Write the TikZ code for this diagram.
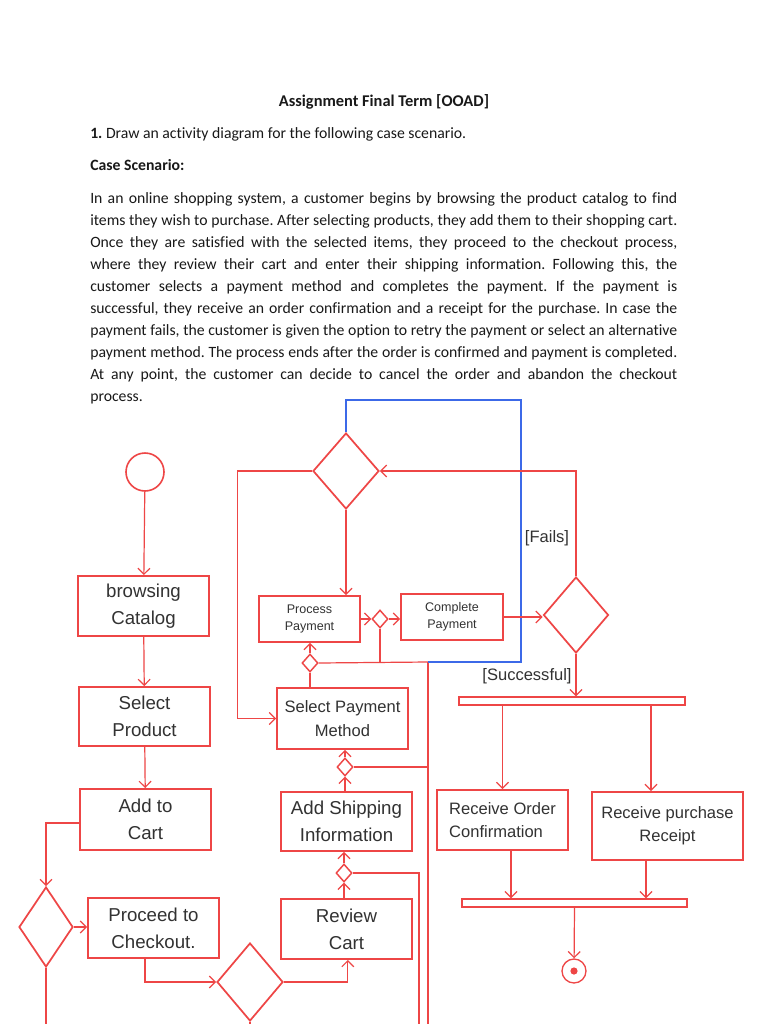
\documentclass[tikz,border=0pt]{standalone}
\usepackage{fontspec}
\setmainfont{Carlito}[Ligatures=NoCommon]
\newfontfamily\dgfont{Liberation Sans}
\usetikzlibrary{shapes.geometric,arrows.meta,calc}
\definecolor{rd}{RGB}{238,70,70}
\definecolor{bl}{RGB}{60,105,232}
\definecolor{tx}{RGB}{25,25,25}
\definecolor{dtx}{RGB}{50,50,50}
\newcommand\dgbig{\dgfont\fontsize{14pt}{20pt}\selectfont}
\newcommand\dgmid{\dgfont\fontsize{12.4pt}{17.5pt}\selectfont}
\newcommand\dgsml{\dgfont\fontsize{9.4pt}{12.8pt}\selectfont}
\newcommand\bodyfs{\fontsize{11.8pt}{16.5pt}\selectfont}
\frenchspacing
\begin{document}
\begin{tikzpicture}[x=0.75pt,y=-0.75pt,
  box/.style={draw=rd,line width=1.4pt,rectangle,inner sep=0pt,align=center,text=dtx},
  dia/.style={draw=rd,line width=1.3pt,diamond,inner sep=0pt},
  sdia/.style={dia,line width=1.1pt,wh={16}{18}},
  bar/.style={draw=rd,line width=1.1pt,rectangle,inner sep=0pt},
  ln/.style={draw=rd,line width=0.9pt},
  arr/.style={ln,-{Straight Barb[length=4.5pt,width=9pt]}},
  wh/.style 2 args={minimum width=#1*0.75pt,minimum height=#2*0.75pt},
  lbl/.style={font=\dgmid,text=dtx,inner sep=0pt}
 ]
\fill[white] (0,0) rectangle (768,1024);
\useasboundingbox (0,0) rectangle (768,1024);

% ---- text ----
\node[font=\fontsize{12.3pt}{16.5pt}\selectfont\bfseries,text=tx,anchor=base,inner sep=0pt] (title) at (384,106) {Assignment Final Term [OOAD]};
\node[font=\bodyfs,text=tx,anchor=base west,inner sep=0pt] (q1) at (90,138) {\textbf{1.} Draw an activity diagram for the following case scenario.};
\node[font=\bodyfs\bfseries,text=tx,anchor=base west,inner sep=0pt] (cs) at (90,170) {Case Scenario:};
\node[font=\bodyfs,text=tx,anchor=base west,inner sep=0pt,text width=440.25pt,align=justify] (para) at (90,203) {In an online shopping system, a customer begins by browsing the product catalog to find\linebreak
items they wish to purchase. After selecting products, they add them to their shopping cart.\linebreak
Once they are satisfied with the selected items, they proceed to the checkout process,\linebreak
where they review their cart and enter their shipping information. Following this, the\linebreak
customer selects a payment method and completes the payment. If the payment is\linebreak
successful, they receive an order confirmation and a receipt for the purchase. In case the\linebreak
payment fails, the customer is given the option to retry the payment or select an alternative\linebreak
payment method. The process ends after the order is confirmed and payment is completed.\linebreak
At any point, the customer can decide to cancel the order and abandon the checkout\linebreak
process.};

% ---- nodes ----
\node[circle,draw=rd,line width=1.2pt,minimum size=38*0.75pt,inner sep=0pt] (start) at (145,472) {};
\node[box,wh={131}{60},font=\dgbig] (browse) at (143.5,606) {browsing\\Catalog};
\node[box,wh={131}{59},font=\dgbig] (selprod) at (144.5,716.5) {\raisebox{3pt}{\parbox{90pt}{\centering Select\\Product}}};
\node[box,wh={131}{61},font=\dgbig] (addcart) at (145.5,819.5) {Add to\\Cart};
\node[dia,wh={54}{80}] (d1) at (46,927) {};
\node[box,wh={131}{60},font=\dgbig] (proceed) at (153.5,928) {Proceed to\\Checkout.};
\node[dia,wh={66}{78}] (d2) at (250,982) {};
\node[box,wh={131}{60},font=\dgbig] (review) at (346.5,929) {Review\\Cart};
\node[sdia] (sd1) at (344,873) {};
\node[box,wh={131}{59},font=\dgbig] (ship) at (346.5,821.5) {Add Shipping\\Information};
\node[sdia] (sd2) at (345,767) {};
\node[box,wh={131}{61},font=\dgmid] (selpay) at (342.5,718.5) {Select Payment\\Method};
\node[sdia] (sd3) at (310,663) {};
\node[box,wh={101}{46},font=\dgsml] (process) at (309.5,619) {Process\\Payment};
\node[sdia] (sd4) at (380,619) {};
\node[box,wh={102}{46},font=\dgsml] (complete) at (452,617) {Complete\\Payment};
\node[dia,wh={65}{76}] (d3) at (576,615) {};
\node[dia,wh={66}{76}] (d0) at (346,471) {};
\node[bar,wh={226}{8}] (fork) at (572,701) {};
\node[box,wh={131}{60},font=\dgmid,align=left] (roc) at (502.5,820) {Receive Order\\Confirmation};
\node[box,wh={151}{68},font=\dgmid] (rpr) at (667.5,826) {Receive purchase\\Receipt};
\node[bar,wh={225}{8}] (join) at (574.5,903) {};
\node[circle,draw=rd,line width=1pt,minimum size=24*0.75pt,inner sep=0pt] (final) at (574,971) {};
\fill[rd] (final.center) circle (3.6);

\node[lbl] (fails) at (547,538) {[Fails]};
\node[lbl] (succ) at (527,676) {[Successful]};

% ---- coordinates ----
\coordinate (e1) at (46,1024);
\coordinate (e2) at (250,1024);
\coordinate (e3) at (419,1024);
\coordinate (e4) at (428,1024);
\coordinate (v428) at (428,662);
\coordinate (b1) at (521,662);
\coordinate (b2) at (521,400);
\path ($(rpr.north)+(-16.5,0)$) coordinate (r1);
\path ($(roc.south)+(8.5,0)$) coordinate (r2);
\path ($(rpr.south)+(-21.5,0)$) coordinate (r3);

% ---- connectors ----
\draw[arr] (start) -- (browse);
\draw[arr] (browse) -- (selprod);
\draw[arr] (selprod) -- (addcart);
\draw[arr] ([yshift=-2.6pt]addcart.west) -| (d1.north);
\draw[arr] (d1.east) -- (d1.east -| proceed.west);
\draw[ln] (d1.south) -- (e1);
\draw[arr] (proceed.south -| start) |- (d2.west);
\draw[arr] (d2.east) -| ([xshift=1pt]review.south);
\draw[ln] (d2.south) -- (e2);
\draw[arr] (sd1.south |- review.north) -- (sd1.south);
\draw[arr] (sd1.north) -- (sd1.north |- ship.south);
\draw[ln] (sd1.east) -| (e3);
\draw[arr] (sd2.south |- ship.north) -- (sd2.south);
\draw[arr] (sd2.north) -- (sd2.north |- selpay.south);
\draw[ln] (sd2.east) -- (sd2.east -| e4);
\draw[ln] (v428) -- (e4);
\draw[ln] (sd3.south |- selpay.north) -- (sd3.south);
\draw[arr] (sd3.north) -- (sd3.north |- process.south);
\draw[ln] (sd3.east) -- (v428);
\draw[draw=bl,line width=0.9pt] (v428) -- (b1) -- (b2) -| (d0.north);
\draw[arr] (process.east) -- (sd4.west);
\draw[arr] (sd4.east) -- (sd4.east -| complete.west);
\draw[ln] (sd4.south) -- (sd4.south |- v428);
\draw[arr] (complete.east) -- (complete.east -| d3.west);
\draw[arr] (d3.north) |- (d0.east);
\draw[arr] (d3.south) -- (d3.south |- fork.north);
\draw[arr] (d0.west) -- ++(-75,0) |- (selpay.west);
\draw[arr] (d0.south) -- (d0.south |- process.north);
\draw[arr] (roc.north |- fork.south) -- (roc.north);
\draw[arr] (r1 |- fork.south) -- (r1);
\draw[arr] (r2) -- (r2 |- join.north);
\draw[arr] (r3) -- (r3 |- join.north);
\draw[arr] (join.south) -- (final);
\end{tikzpicture}
\end{document}
